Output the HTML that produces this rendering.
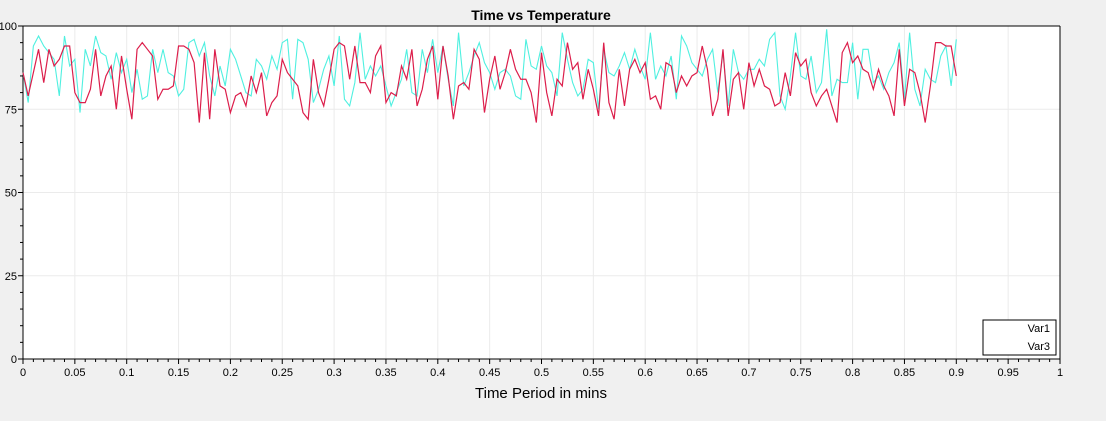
<!DOCTYPE html>
<html><head><meta charset="utf-8"><style>
body{margin:0;background:#f0f0f0;width:1106px;height:416px;overflow:hidden;font-family:"Liberation Sans",sans-serif}
</style></head><body>
<svg id="chart" width="1106" height="416" xmlns="http://www.w3.org/2000/svg" font-family="Liberation Sans, sans-serif">
<rect x="23" y="26" width="1037" height="333" fill="#fff"/>
<text x="541" y="20" text-anchor="middle" font-size="14" font-weight="bold">Time vs Temperature</text>
<g id="grid"></g><g id="axes"></g><g id="series"></g>
<text x="541" y="398" text-anchor="middle" font-size="15">Time Period in mins</text>
<g>
<rect x="983" y="320" width="73" height="35" fill="#fff" stroke="#000"/>
<text x="1050" y="332" text-anchor="end" font-size="11">Var1</text>
<text x="1050" y="350" text-anchor="end" font-size="11">Var3</text>
</g>
</svg>
<script>
const xTicks=[0,0.05,0.1,0.15,0.2,0.25,0.3,0.35,0.4,0.45,0.5,0.55,0.6,0.65,0.7,0.75,0.8,0.85,0.9,0.95,1];
const xTickLabels=["0","0.05","0.1","0.15","0.2","0.25","0.3","0.35","0.4","0.45","0.5","0.55","0.6","0.65","0.7","0.75","0.8","0.85","0.9","0.95","1"];
const yTicks=[0,25,50,75,100];
const yTickLabels=["0","25","50","75","100"];
const timeStep=0.005;
const var1=[86,77,94,97,94,92,90,79,97,88,90,74,93,88,97,92,91,84,92,86,90,80,87,78,79,93,86,93,86,85,79,81,95,96,91,95,85,79,88,82,93,90,85,80,79,90,88,84,91,87,95,96,78,96,95,90,77,81,87,91,82,97,78,76,83,98,84,88,85,88,82,76,80,84,93,80,79,93,86,96,86,94,84,76,98,82,86,91,95,89,86,81,86,87,85,79,78,96,88,87,94,88,86,79,98,90,83,79,81,90,89,75,93,86,85,88,92,87,93,88,84,98,84,88,85,91,78,97,94,89,87,85,90,93,80,92,76,93,86,84,87,87,90,88,96,98,79,75,85,98,85,84,91,80,83,99,79,84,83,83,95,78,93,93,83,85,81,86,89,95,78,98,81,76,87,84,83,91,94,82,96];
const var3=[86,79,86,93,83,93,88,90,94,94,80,77,77,81,93,79,85,88,75,91,81,72,93,95,93,91,78,81,81,82,94,94,93,89,71,92,72,93,82,81,74,79,80,76,85,80,86,73,77,79,90,86,84,82,74,72,90,80,76,84,93,95,94,84,94,83,83,80,91,94,77,80,79,88,84,93,76,81,90,94,78,94,85,72,82,83,81,93,90,74,84,91,81,86,93,87,84,84,80,71,92,80,73,84,82,95,87,89,78,87,81,73,95,77,72,87,76,87,90,86,89,78,79,75,89,88,80,85,82,85,86,94,87,73,78,93,73,84,86,75,89,82,87,82,81,76,77,86,79,92,88,90,80,76,79,81,76,71,92,95,89,91,87,86,81,87,82,79,73,93,76,87,86,80,71,82,95,95,94,94,85];
const NS="http://www.w3.org/2000/svg";
const L=23,R=1060,T=26,B=359;
const xs=v=>L+v*(R-L), ys=v=>B-v/100*(B-T);
function mk(tag,attrs,parent){const e=document.createElementNS(NS,tag);for(const k in attrs)e.setAttribute(k,attrs[k]);parent.appendChild(e);return e;}
const grid=document.getElementById('grid'),axes=document.getElementById('axes'),series=document.getElementById('series');
xTicks.forEach((t,i)=>{
 if(t>0&&t<1){const g=mk('line',{x1:xs(t),x2:xs(t),y1:T,y2:B,stroke:'#ebebeb'},grid);
 
 }
 const tk=mk('line',{x1:xs(t),x2:xs(t),y1:B,y2:B+5,stroke:'#000'},axes);
 
 
 const lb=mk('text',{x:xs(t),y:B+17,'text-anchor':'middle','font-size':'11'},axes);lb.textContent=xTickLabels[i];
 
 
});
for(let k=0;k<=100;k++){if(k%5===0)continue;const m=mk('line',{x1:xs(k/100),x2:xs(k/100),y1:B,y2:B+3,stroke:'#000'},axes);
 
 }
yTicks.forEach((t,i)=>{
 if(t>0&&t<100){const g=mk('line',{x1:L,x2:R,y1:ys(t),y2:ys(t),stroke:'#ebebeb'},grid);
 
 }
 const tk=mk('line',{x1:L-5,x2:L,y1:ys(t),y2:ys(t),stroke:'#000'},axes);
 
 
 const lb=mk('text',{x:L-6,y:ys(t)+4,'text-anchor':'end','font-size':'11'},axes);lb.textContent=yTickLabels[i];
 
 
});
for(let k=5;k<100;k+=5){if(k%25===0)continue;const m=mk('line',{x1:L-3,x2:L,y1:ys(k),y2:ys(k),stroke:'#000'},axes);
 
 }
const ax1=mk('line',{x1:L,x2:L,y1:T,y2:B,stroke:'#000'},axes);


const ax2=mk('line',{x1:L,x2:R,y1:B,y2:B,stroke:'#000'},axes);


const ax3=mk('line',{x1:L,x2:R,y1:T,y2:T,stroke:'#000'},axes);


const ax4=mk('line',{x1:R,x2:R,y1:T,y2:B,stroke:'#000'},axes);


function path(arr){return arr.map((v,i)=>(i?'L':'M')+xs(i*timeStep).toFixed(2)+' '+ys(v).toFixed(2)).join(' ');}
const p1=mk('path',{d:path(var1),fill:'none',stroke:'#4ff0e0','stroke-width':'1.1'},series);


const p3=mk('path',{d:path(var3),fill:'none',stroke:'#dc1e4b','stroke-width':'1.2'},series);


</script>
</body></html>
